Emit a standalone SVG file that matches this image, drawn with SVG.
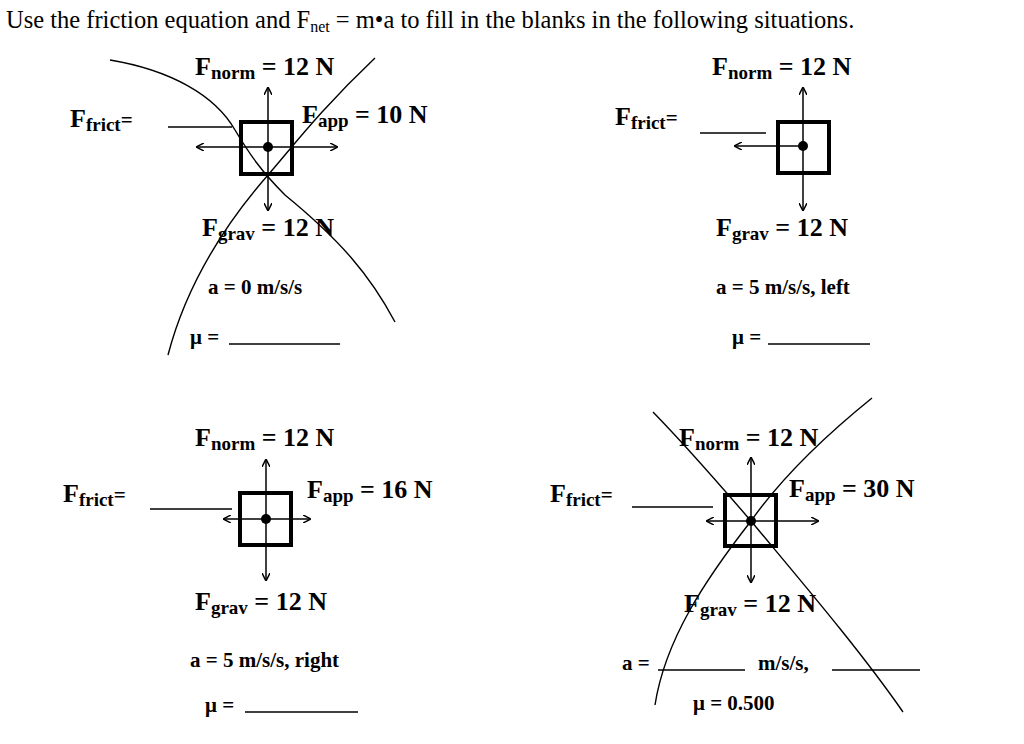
<svg xmlns="http://www.w3.org/2000/svg" width="1024" height="744" viewBox="0 0 1024 744">
<style>
text{font-family:"Liberation Serif","DejaVu Serif",serif;fill:#000}
.h{font-size:24.5px}
.l{font-size:26px;font-weight:bold}
.s{font-size:21px;font-weight:bold}
.sub{font-size:19px}
.hs{font-size:16px}
.ln{stroke:#000;stroke-width:1.5;fill:none}
.ar{stroke:#000;stroke-width:1.5;fill:none;marker-end:url(#a)}
.bx{stroke:#000;stroke-width:4;fill:none}
.cv{stroke:#000;stroke-width:1.4;fill:none}
</style>
<defs><marker id="a" markerWidth="8" markerHeight="8" refX="7" refY="4" orient="auto" markerUnits="userSpaceOnUse"><path d="M0,0L8,4L0,8" fill="none" stroke="#000" stroke-width="1.5"/></marker></defs>
<rect width="1024" height="744" fill="#fff"/>
<text class="h" x="6" y="28">Use the friction equation and F<tspan class="hs" dy="4">net</tspan><tspan dy="-4"> = m•a to fill in the blanks in the following situations.</tspan></text>

<g id="b1">
<rect class="bx" x="241" y="122" width="51" height="52"/>
<circle cx="268" cy="147" r="5"/>
<path class="ar" d="M268,147V88"/><path class="ar" d="M268,147V210"/>
<path class="ar" d="M268,147H197"/><path class="ar" d="M268,147H337"/>
<text class="l" x="70" y="127">F<tspan class="sub" dy="4">frict</tspan><tspan class="s" dy="-4">=</tspan></text>
<path class="ln" d="M168,127H232"/>
<text class="l" x="195" y="75">F<tspan class="sub" dy="4">norm</tspan><tspan dy="-4"> = 12 N</tspan></text>
<text class="l" x="302" y="123">F<tspan class="sub" dy="4">app</tspan><tspan dy="-4"> = 10 N</tspan></text>
<text class="l" x="202" y="236">F<tspan class="sub" dy="4">grav</tspan><tspan dy="-4"> = 12 N</tspan></text>
<text class="s" x="208" y="294">a = 0 m/s/s</text>
<text class="s" x="190" y="344">μ =</text>
<path class="ln" d="M229,344H340"/>
</g>

<g id="b2">
<rect class="bx" x="778" y="122" width="51" height="51"/>
<circle cx="803" cy="146" r="5"/>
<path class="ar" d="M803,146V88"/><path class="ar" d="M803,146V210"/>
<path class="ar" d="M803,146H735"/>
<text class="l" x="615" y="125">F<tspan class="sub" dy="4">frict</tspan><tspan class="s" dy="-4">=</tspan></text>
<path class="ln" d="M700,133H766"/>
<text class="l" x="712" y="75">F<tspan class="sub" dy="4">norm</tspan><tspan dy="-4"> = 12 N</tspan></text>
<text class="l" x="716" y="236">F<tspan class="sub" dy="4">grav</tspan><tspan dy="-4"> = 12 N</tspan></text>
<text class="s" x="716" y="294">a = 5 m/s/s, left</text>
<text class="s" x="732" y="344">μ =</text>
<path class="ln" d="M768,344H870"/>
</g>

<g id="b3">
<rect class="bx" x="240" y="493" width="51" height="52"/>
<circle cx="266" cy="519" r="5"/>
<path class="ar" d="M266,519V460"/><path class="ar" d="M266,519V580"/>
<path class="ar" d="M266,519H224"/><path class="ar" d="M266,519H310"/>
<text class="l" x="63" y="502">F<tspan class="sub" dy="4">frict</tspan><tspan class="s" dy="-4">=</tspan></text>
<path class="ln" d="M150,509H232"/>
<text class="l" x="195" y="446">F<tspan class="sub" dy="4">norm</tspan><tspan dy="-4"> = 12 N</tspan></text>
<text class="l" x="307" y="498">F<tspan class="sub" dy="4">app</tspan><tspan dy="-4"> = 16 N</tspan></text>
<text class="l" x="195" y="610">F<tspan class="sub" dy="4">grav</tspan><tspan dy="-4"> = 12 N</tspan></text>
<text class="s" x="190" y="667">a = 5 m/s/s, right</text>
<text class="s" x="205" y="712">μ =</text>
<path class="ln" d="M245,712H358"/>
</g>

<g id="b4">
<rect class="bx" x="725" y="495" width="51" height="51"/>
<circle cx="751" cy="521" r="5"/>
<path class="ar" d="M751,521V458"/><path class="ar" d="M751,521V582"/>
<path class="ar" d="M751,521H707"/><path class="ar" d="M751,521H818"/>
<text class="l" x="550" y="502">F<tspan class="sub" dy="4">frict</tspan><tspan class="s" dy="-4">=</tspan></text>
<path class="ln" d="M632,507H713"/>
<text class="l" x="679" y="446">F<tspan class="sub" dy="4">norm</tspan><tspan dy="-4"> = 12 N</tspan></text>
<text class="l" x="789" y="497">F<tspan class="sub" dy="4">app</tspan><tspan dy="-4"> = 30 N</tspan></text>
<text class="l" x="684" y="612">F<tspan class="sub" dy="4">grav</tspan><tspan dy="-4"> = 12 N</tspan></text>
<text class="s" x="622" y="670">a =</text>
<path class="ln" d="M658,670H745"/>
<text class="s" x="758" y="670">m/s/s,</text>
<path class="ln" d="M832,670H920"/>
<text class="s" x="693" y="710">μ = 0.500</text>
</g>

<g id="connectors">
<path class="cv" d="M110,60C170,70 215,95 235,130C250,155 262,172 285,195C340,240 370,275 395,322"/>
<path class="cv" d="M375,58C320,110 290,150 268,175C220,230 185,290 168,355"/>
<path class="cv" d="M653,412C690,450 720,485 751,521C800,580 860,650 903,712"/>
<path class="cv" d="M872,398C820,440 780,480 751,521C705,580 665,640 655,705"/>
</g>
</svg>
